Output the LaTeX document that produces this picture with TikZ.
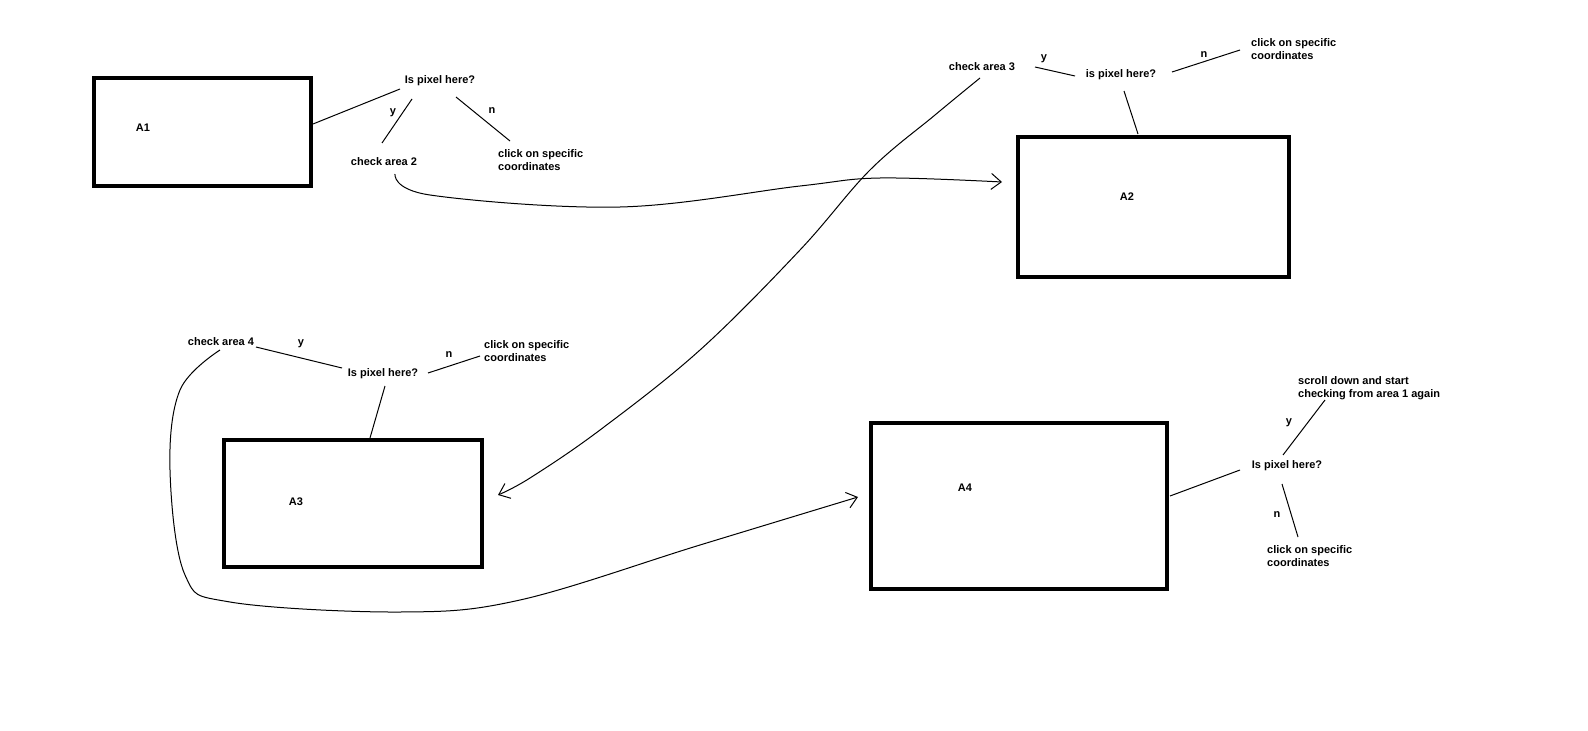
\documentclass[tikz,border=0pt]{standalone}
\usepackage{fontspec}
\setmainfont{Liberation Sans}
\usetikzlibrary{positioning, arrows.meta}
\tikzset{area/.style={draw, line width=4pt, inner sep=0pt},
  txt/.style={font=\bfseries\fontsize{11}{13}\selectfont, inner sep=1pt, align=left},
  wire/.style={line width=1pt},
  hand/.style={line width=1pt, -{Straight Barb[length=10pt,width=16pt]}}}
\begin{document}
\begin{tikzpicture}[x=1pt, y=-1pt]
				\useasboundingbox (0,0) rectangle (1588,731);
				% Areas
				\draw[area] (94,78) rectangle (311,186); \node[txt] (a1) at (143,128) {A1};
				\draw[area] (1018,137) rectangle (1289,277); \node[txt] (a2) at (1127,197) {A2};
				\draw[area] (224,440) rectangle (482,567); \node[txt] (a3) at (296,502) {A3};
				\draw[area] (871,423) rectangle (1167,589); \node[txt] (a4) at (965,488) {A4};
				% Area 1 check
				\node[txt] (q1) at (440,81) {Is pixel here?};
				\node[txt] (c2) at (384,162) {check area 2};
				\node[txt, anchor=west] (n1) at (497,160) {click on specific\\coordinates};
				\node[txt] at (393,113) {y};
				\node[txt] at (492,111) {n};
				\draw[wire] (313,124) -- (400,89) (382,143) -- (412,99) (456,97) -- (510,141);
				% Area 2 check
				\node[txt] (q2) at (1121,75) {is pixel here?};
				\node[txt] (c3) at (982,67) {check area 3};
				\node[txt, anchor=west] (n2) at (1250,49) {click on specific\\coordinates};
				\node[txt] at (1044,59) {y};
				\node[txt] at (1204,55) {n};
				\draw[wire] (1138,134) -- (1124,91) (1035,67) -- (1075,76) (1172,72) -- (1240,50);
				% Area 3 check
				\node[txt] (q3) at (383,374) {Is pixel here?};
				\node[txt] (c4) at (221,342) {check area 4};
				\node[txt, anchor=west] (n3) at (483,351) {click on specific\\coordinates};
				\node[txt] at (301,344) {y};
				\node[txt] at (449,355) {n};
				\draw[wire] (370,438) -- (385,386) (256,347) -- (342,368) (428,373) -- (480,356);
				% Area 4 check
				\node[txt] (q4) at (1287,466) {Is pixel here?};
				\node[txt, anchor=west] (s1) at (1297,388) {scroll down and start\\checking from area 1 again};
				\node[txt, anchor=west] (n4) at (1266,556) {click on specific\\coordinates};
				\node[txt] at (1289,423) {y};
				\node[txt] at (1277,515) {n};
				\draw[wire] (1170,496) -- (1240,470) (1283,455) -- (1325,400) (1282,484) -- (1298,537);
				% Jumps
				\draw[hand] plot[smooth, tension=0.6] coordinates {(395,174) (430,195) (620,207) (800,186) (880,178) (1002,182)};
				\draw[hand] plot[smooth, tension=0.6] coordinates {(980,78) (935,115) (870,170) (800,250) (700,350) (600,430) (530,478) (498,495)};
				\draw[hand] plot[smooth, tension=0.6] coordinates {(220,350) (180,390) (170,470) (185,575) (230,602) (400,612) (520,600) (700,545) (858,497)};
			\end{tikzpicture}
\end{document}
